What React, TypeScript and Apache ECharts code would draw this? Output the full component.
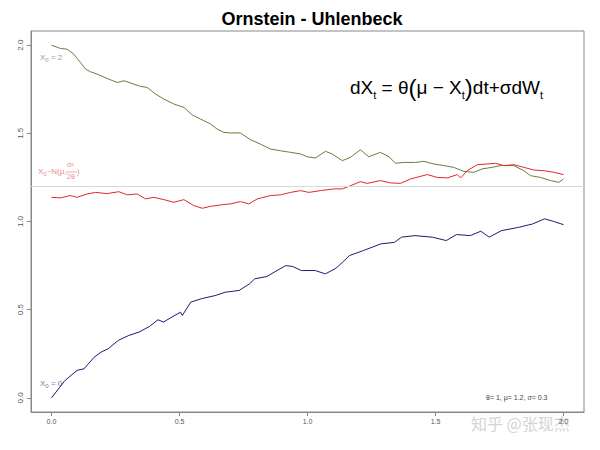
import React, { useEffect, useRef } from "react";
import * as echarts from "echarts";

const blueT = [0, 0.053, 0.1, 0.127, 0.167, 0.194, 0.221, 0.261, 0.302, 0.342, 0.383, 0.416, 0.437, 0.504, 0.511, 0.544, 0.585, 0.639, 0.679, 0.733, 0.774, 0.794, 0.841, 0.881, 0.915, 0.942, 0.976, 1.03, 1.07, 1.111, 1.137, 1.164, 1.218, 1.286, 1.34, 1.367, 1.42, 1.488, 1.542, 1.582, 1.636, 1.677, 1.71, 1.757, 1.825, 1.879, 1.926, 1.96, 2.0];
const blueV = [0.0, 0.099, 0.156, 0.165, 0.231, 0.26, 0.278, 0.326, 0.354, 0.373, 0.405, 0.443, 0.43, 0.486, 0.467, 0.543, 0.562, 0.58, 0.599, 0.609, 0.647, 0.675, 0.688, 0.722, 0.75, 0.745, 0.722, 0.722, 0.703, 0.735, 0.769, 0.807, 0.835, 0.873, 0.882, 0.911, 0.92, 0.911, 0.892, 0.926, 0.92, 0.945, 0.911, 0.948, 0.967, 0.986, 1.015, 1.001, 0.982];

const greenT = [0, 0.035, 0.061, 0.087, 0.113, 0.133, 0.152, 0.178, 0.217, 0.257, 0.283, 0.309, 0.348, 0.374, 0.406, 0.439, 0.478, 0.517, 0.55, 0.582, 0.621, 0.647, 0.673, 0.699, 0.738, 0.777, 0.816, 0.855, 0.895, 0.934, 0.973, 0.999, 1.031, 1.07, 1.096, 1.136, 1.168, 1.207, 1.239, 1.285, 1.318, 1.344, 1.376, 1.422, 1.454, 1.493, 1.532, 1.571, 1.611, 1.65, 1.682, 1.721, 1.754, 1.806, 1.845, 1.871, 1.91, 1.949, 1.982, 2.0];
const greenV = [2.0, 1.981, 1.977, 1.949, 1.902, 1.864, 1.849, 1.836, 1.811, 1.788, 1.798, 1.785, 1.766, 1.76, 1.723, 1.694, 1.666, 1.647, 1.604, 1.581, 1.553, 1.524, 1.505, 1.502, 1.502, 1.464, 1.439, 1.411, 1.401, 1.392, 1.383, 1.367, 1.36, 1.398, 1.383, 1.345, 1.364, 1.407, 1.367, 1.392, 1.367, 1.33, 1.335, 1.335, 1.341, 1.326, 1.317, 1.307, 1.284, 1.279, 1.298, 1.307, 1.317, 1.317, 1.288, 1.26, 1.25, 1.232, 1.222, 1.241];

const redT = [0, 0.035, 0.074, 0.1, 0.139, 0.172, 0.217, 0.263, 0.296, 0.335, 0.367, 0.4, 0.439, 0.478, 0.517, 0.556, 0.589, 0.621, 0.66, 0.699, 0.738, 0.771, 0.804, 0.855, 0.895, 0.934, 0.973, 1.005, 1.051, 1.103, 1.136, 1.168, 1.207, 1.233, 1.285, 1.324, 1.363, 1.402, 1.468, 1.507, 1.546, 1.585, 1.598, 1.624, 1.663, 1.702, 1.734, 1.767, 1.806, 1.845, 1.884, 1.923, 1.962, 2.0];
const redV = [1.137, 1.134, 1.147, 1.137, 1.156, 1.165, 1.158, 1.169, 1.151, 1.156, 1.128, 1.137, 1.124, 1.109, 1.124, 1.09, 1.075, 1.086, 1.094, 1.1, 1.113, 1.1, 1.128, 1.147, 1.151, 1.165, 1.175, 1.165, 1.175, 1.185, 1.185, 1.203, 1.226, 1.216, 1.232, 1.219, 1.216, 1.241, 1.266, 1.25, 1.247, 1.266, 1.247, 1.288, 1.322, 1.326, 1.33, 1.317, 1.322, 1.307, 1.292, 1.288, 1.279, 1.266];

const xTicks = [0, 0.5, 1, 1.5, 2];
const yTicks = [0, 0.5, 1, 1.5, 2];
const MU = 1.2;

const TITLE = "Ornstein - Uhlenbeck";
const PARAMS = "θ= 1, μ= 1.2, σ= 0.3";
const WATERMARK = "知乎 @张现杰";

const zip = (t: number[], v: number[]) => t.map((x, i) => [x, v[i]]);

export default function App() {
  const ref = useRef<HTMLDivElement>(null);
  useEffect(() => {
    document.body.style.margin = "0";
    if (!ref.current) return;
    const chart = echarts.init(ref.current, null, { renderer: "svg" });
    const font = "Liberation Sans, Arial, sans-serif";
    const sub = { fontSize: 11, verticalAlign: "bottom" as const, lineHeight: 26, fontFamily: font, fill: "#000" };
    chart.setOption({
      animation: false,
      backgroundColor: "#fff",
      title: {
        text: TITLE,
        left: 307,
        textAlign: "center",
        top: 5,
        textStyle: { fontFamily: font, fontSize: 18, fontWeight: "bold", color: "#000" },
      },
      grid: { left: 31, right: 16, top: 31, bottom: 38, show: true, borderColor: "#888", borderWidth: 1, containLabel: false, outerBoundsMode: "none" },
      xAxis: {
        type: "value",
        min: -0.08,
        max: 2.08,
        axisLine: { show: true, onZero: false, lineStyle: { color: "#888" } },
        axisTick: { show: true, customValues: xTicks, length: 4, lineStyle: { color: "#888" } },
        axisLabel: { customValues: xTicks, formatter: (v: number) => v.toFixed(1), fontSize: 7, color: "#555", fontFamily: font, margin: 6 },
        splitLine: { show: false },
      },
      yAxis: {
        type: "value",
        min: -0.08,
        max: 2.08,
        axisLine: { show: true, onZero: false, lineStyle: { color: "#888" } },
        axisTick: { show: true, customValues: yTicks, length: 4, lineStyle: { color: "#888" } },
        axisLabel: { customValues: yTicks, formatter: (v: number) => v.toFixed(1), fontSize: 8, color: "#555", fontFamily: font, rotate: 90, margin: 7 },
        splitLine: { show: false },
      },
      series: [
        {
          type: "line",
          data: zip(greenT, greenV),
          showSymbol: false,
          lineStyle: { color: "#6b7d3e", width: 1 },
          markLine: {
            silent: true,
            symbol: "none",
            label: { show: false },
            lineStyle: { color: "#d8d8d8", type: "solid", width: 1 },
            data: [{ yAxis: MU }],
          },
        },
        { type: "line", data: zip(redT, redV), showSymbol: false, lineStyle: { color: "#e3262e", width: 1 } },
        { type: "line", data: zip(blueT, blueV), showSymbol: false, lineStyle: { color: "#1c1c72", width: 1 } },
      ],
      graphic: [
        {
          type: "text",
          left: 350,
          top: 75,
          style: {
            text: "{m|dX}{s|t}{m| = θ}{p|(}{m|μ − X}{s|t}{p|)}{m|dt+σdW}{s|t}",
            rich: {
              m: { fontSize: 19, fontFamily: font, lineHeight: 26, fill: "#000" },
              p: { fontSize: 24, fontFamily: font, lineHeight: 26, fill: "#000" },
              s: sub,
            },
          },
        },
        {
          type: "text",
          left: 40,
          top: 53,
          style: {
            text: "{m|X}{s|0}{m| = 2}",
            rich: {
              m: { fontSize: 8, fontFamily: font, fill: "#9da287", lineHeight: 12 },
              s: { fontSize: 6, fontFamily: font, fill: "#9da287", verticalAlign: "bottom", lineHeight: 12 },
            },
          },
        },
        {
          type: "text",
          left: 40,
          top: 379,
          style: {
            text: "{m|X}{s|0}{m| = 0}",
            rich: {
              m: { fontSize: 8, fontFamily: font, fill: "#7a7a9e", lineHeight: 12 },
              s: { fontSize: 6, fontFamily: font, fill: "#7a7a9e", verticalAlign: "bottom", lineHeight: 12 },
            },
          },
        },
        {
          type: "text",
          left: 38,
          top: 167,
          style: {
            text: "{m|X}{s|0}{m|~N(μ,}",
            rich: {
              m: { fontSize: 8, fontFamily: font, fill: "#e58a8e", lineHeight: 12 },
              s: { fontSize: 6, fontFamily: font, fill: "#e58a8e", verticalAlign: "bottom", lineHeight: 12 },
            },
          },
        },
        { type: "text", left: 67, top: 161, style: { text: "σ²", fontSize: 7, fontFamily: font, fill: "#e58a8e" } },
        { type: "line", shape: { x1: 66, y1: 172, x2: 77, y2: 172 }, style: { stroke: "#e58a8e", lineWidth: 0.7 } },
        { type: "text", left: 67, top: 173, style: { text: "2θ", fontSize: 7, fontFamily: font, fill: "#e58a8e" } },
        { type: "text", left: 77, top: 167, style: { text: ")", fontSize: 8, fontFamily: font, fill: "#e58a8e" } },
        {
          type: "text",
          left: 486,
          top: 394,
          style: { text: PARAMS, fontSize: 7, fontFamily: font, fill: "#444" },
        },
        {
          type: "text",
          left: 471,
          top: 415,
          style: { text: WATERMARK, fontSize: 16, fontFamily: "Noto Sans CJK SC, sans-serif", fill: "#d4d4d4" },
        },
      ],
    });
    return () => chart.dispose();
  }, []);
  return <div ref={ref} style={{ width: 600, height: 450 }} />;
}
